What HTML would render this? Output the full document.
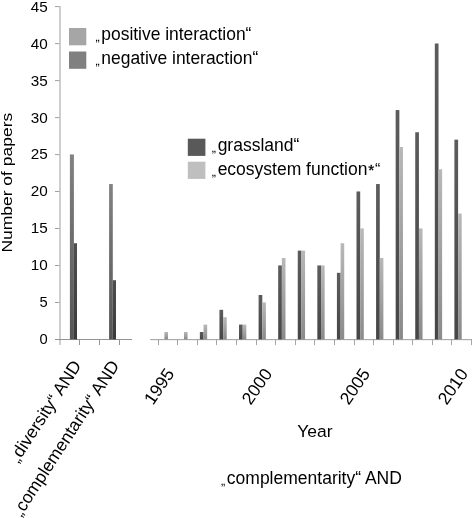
<!DOCTYPE html>
<html><head><meta charset="utf-8"><title>chart</title>
<style>
html,body{margin:0;padding:0;background:#fff;}
body{width:472px;height:518px;overflow:hidden;position:relative;font-family:"Liberation Sans",sans-serif;color:#000;}
svg{position:absolute;left:0;top:0;}
text{font-family:"Liberation Sans",sans-serif;fill:#000;}
</style></head><body>
<svg width="472" height="518" viewBox="0 0 472 518">
<defs>
<linearGradient id="gd" x1="0" x2="0" y1="0" y2="1"><stop offset="0" stop-color="#5c5c5c"/><stop offset="1" stop-color="#464646"/></linearGradient>
<linearGradient id="gl" x1="0" x2="0" y1="0" y2="1"><stop offset="0" stop-color="#b8b8b8"/><stop offset="1" stop-color="#8a8a8a"/></linearGradient>
<linearGradient id="gm" x1="0" x2="0" y1="0" y2="1"><stop offset="0" stop-color="#828282"/><stop offset="1" stop-color="#545454"/></linearGradient>
<linearGradient id="gk" x1="0" x2="0" y1="0" y2="1"><stop offset="0" stop-color="#4e4e4e"/><stop offset="1" stop-color="#3a3a3a"/></linearGradient>
</defs>

<line x1="60" y1="6.0" x2="60" y2="345.0" stroke="#c6c6c6" stroke-width="1.7"/>
<g stroke="#949494" stroke-width="1" fill="none">
<line x1="55" y1="339.5" x2="59.5" y2="339.5" stroke="#a0a0a0"/>
<line x1="55" y1="302.5" x2="59.5" y2="302.5" stroke="#a0a0a0"/>
<line x1="55" y1="265.5" x2="59.5" y2="265.5" stroke="#a0a0a0"/>
<line x1="55" y1="228.5" x2="59.5" y2="228.5" stroke="#a0a0a0"/>
<line x1="55" y1="191.5" x2="59.5" y2="191.5" stroke="#a0a0a0"/>
<line x1="55" y1="154.6" x2="59.5" y2="154.6" stroke="#a0a0a0"/>
<line x1="55" y1="117.6" x2="59.5" y2="117.6" stroke="#a0a0a0"/>
<line x1="55" y1="80.6" x2="59.5" y2="80.6" stroke="#a0a0a0"/>
<line x1="55" y1="43.6" x2="59.5" y2="43.6" stroke="#a0a0a0"/>
<line x1="55" y1="6.6" x2="59.5" y2="6.6" stroke="#a0a0a0"/>
<line x1="55" y1="339.5" x2="132" y2="339.5"/>
<line x1="79.5" y1="339.5" x2="79.5" y2="345.0"/>
<line x1="99.5" y1="339.5" x2="99.5" y2="345.0"/>
<line x1="119.5" y1="339.5" x2="119.5" y2="345.0"/>
<line x1="150.2" y1="339.65" x2="472" y2="339.65" stroke="#9c9c9c"/>
<line x1="158.5" y1="339.5" x2="158.5" y2="345.1" stroke="#a4a4a4"/>
<line x1="177.5" y1="339.5" x2="177.5" y2="345.1" stroke="#a4a4a4"/>
<line x1="197.5" y1="339.5" x2="197.5" y2="345.1" stroke="#a4a4a4"/>
<line x1="216.5" y1="339.5" x2="216.5" y2="345.1" stroke="#a4a4a4"/>
<line x1="236.5" y1="339.5" x2="236.5" y2="345.1" stroke="#a4a4a4"/>
<line x1="256.5" y1="339.5" x2="256.5" y2="345.1" stroke="#a4a4a4"/>
<line x1="275.5" y1="339.5" x2="275.5" y2="345.1" stroke="#a4a4a4"/>
<line x1="295.5" y1="339.5" x2="295.5" y2="345.1" stroke="#a4a4a4"/>
<line x1="314.5" y1="339.5" x2="314.5" y2="345.1" stroke="#a4a4a4"/>
<line x1="334.5" y1="339.5" x2="334.5" y2="345.1" stroke="#a4a4a4"/>
<line x1="354.5" y1="339.5" x2="354.5" y2="345.1" stroke="#a4a4a4"/>
<line x1="373.5" y1="339.5" x2="373.5" y2="345.1" stroke="#a4a4a4"/>
<line x1="393.5" y1="339.5" x2="393.5" y2="345.1" stroke="#a4a4a4"/>
<line x1="412.5" y1="339.5" x2="412.5" y2="345.1" stroke="#a4a4a4"/>
<line x1="432.5" y1="339.5" x2="432.5" y2="345.1" stroke="#a4a4a4"/>
<line x1="451.5" y1="339.5" x2="451.5" y2="345.1" stroke="#a4a4a4"/>
<line x1="471.5" y1="339.5" x2="471.5" y2="345.1" stroke="#a4a4a4"/>
</g>
<rect x="69.90" y="154.45" width="4.00" height="184.95" fill="url(#gm)"/>
<rect x="73.90" y="243.23" width="3.10" height="96.17" fill="url(#gk)"/>
<rect x="109.10" y="184.04" width="3.70" height="155.36" fill="url(#gm)"/>
<rect x="112.80" y="280.22" width="3.20" height="59.18" fill="url(#gk)"/>
<rect x="164.40" y="332.00" width="3.60" height="7.40" fill="url(#gl)"/>
<rect x="183.98" y="332.00" width="3.60" height="7.40" fill="url(#gl)"/>
<rect x="199.86" y="332.00" width="3.70" height="7.40" fill="url(#gd)"/>
<rect x="203.56" y="324.60" width="3.60" height="14.80" fill="url(#gl)"/>
<rect x="219.44" y="309.81" width="3.70" height="29.59" fill="url(#gd)"/>
<rect x="223.14" y="317.21" width="3.60" height="22.19" fill="url(#gl)"/>
<rect x="239.02" y="324.60" width="3.70" height="14.80" fill="url(#gd)"/>
<rect x="242.72" y="324.60" width="3.60" height="14.80" fill="url(#gl)"/>
<rect x="258.60" y="295.01" width="3.70" height="44.39" fill="url(#gd)"/>
<rect x="262.30" y="302.41" width="3.60" height="36.99" fill="url(#gl)"/>
<rect x="278.18" y="265.42" width="3.70" height="73.98" fill="url(#gd)"/>
<rect x="281.88" y="258.02" width="3.60" height="81.38" fill="url(#gl)"/>
<rect x="297.76" y="250.62" width="3.70" height="88.78" fill="url(#gd)"/>
<rect x="301.46" y="250.62" width="3.60" height="88.78" fill="url(#gl)"/>
<rect x="317.34" y="265.42" width="3.70" height="73.98" fill="url(#gd)"/>
<rect x="321.04" y="265.42" width="3.60" height="73.98" fill="url(#gl)"/>
<rect x="336.92" y="272.82" width="3.70" height="66.58" fill="url(#gd)"/>
<rect x="340.62" y="243.23" width="3.60" height="96.17" fill="url(#gl)"/>
<rect x="356.50" y="191.44" width="3.70" height="147.96" fill="url(#gd)"/>
<rect x="360.20" y="228.43" width="3.60" height="110.97" fill="url(#gl)"/>
<rect x="376.08" y="184.04" width="3.70" height="155.36" fill="url(#gd)"/>
<rect x="379.78" y="258.02" width="3.60" height="81.38" fill="url(#gl)"/>
<rect x="395.66" y="110.06" width="3.70" height="229.34" fill="url(#gd)"/>
<rect x="399.36" y="147.05" width="3.60" height="192.35" fill="url(#gl)"/>
<rect x="415.24" y="132.26" width="3.70" height="207.14" fill="url(#gd)"/>
<rect x="418.94" y="228.43" width="3.60" height="110.97" fill="url(#gl)"/>
<rect x="434.82" y="43.48" width="3.70" height="295.92" fill="url(#gd)"/>
<rect x="438.52" y="169.25" width="3.60" height="170.15" fill="url(#gl)"/>
<rect x="454.40" y="139.65" width="3.70" height="199.75" fill="url(#gd)"/>
<rect x="458.10" y="213.63" width="3.60" height="125.77" fill="url(#gl)"/>
<rect x="69" y="28" width="17.3" height="17.3" fill="#a6a6a6"/>
<rect x="69" y="51.5" width="17.3" height="17.3" fill="#808080"/>
<rect x="187.8" y="138.7" width="17.6" height="17.2" fill="#595959"/>
<rect x="187.8" y="161.7" width="17.6" height="17.2" fill="#bfbfbf"/>
<text x="95.5" y="40.1" font-size="17.43"><tspan font-size="12.55" dy="0.9">„</tspan><tspan dy="-0.9" dx="1.63">positive interaction“</tspan></text>
<text x="95.5" y="64.4" font-size="17.43"><tspan font-size="12.55" dy="0.9">„</tspan><tspan dy="-0.9" dx="1.63">negative interaction“</tspan></text>
<text x="211.8" y="151.3" font-size="17.5"><tspan font-size="12.60" dy="0.9">„</tspan><tspan dy="-0.9" dx="1.63">grassland“</tspan></text>
<text x="211.8" y="175.2" font-size="17.5"><tspan font-size="12.6" dy="0.9">„</tspan><tspan dy="-0.9" dx="1.63">ecosystem function</tspan><tspan stroke="#000" stroke-width="0.3" font-size="15.5" dx="0.9" dy="-0.6">*</tspan><tspan font-size="16" dx="0.6" dy="0.6">“</tspan></text>
<text x="47.8" y="344.4" font-size="14" text-anchor="end" textLength="8.2" lengthAdjust="spacingAndGlyphs">0</text>
<text x="47.8" y="307.4" font-size="14" text-anchor="end" textLength="8.2" lengthAdjust="spacingAndGlyphs">5</text>
<text x="47.8" y="270.4" font-size="14" text-anchor="end" textLength="17.0" lengthAdjust="spacingAndGlyphs">10</text>
<text x="47.8" y="233.4" font-size="14" text-anchor="end" textLength="17.0" lengthAdjust="spacingAndGlyphs">15</text>
<text x="47.8" y="196.4" font-size="14" text-anchor="end" textLength="17.0" lengthAdjust="spacingAndGlyphs">20</text>
<text x="47.8" y="159.4" font-size="14" text-anchor="end" textLength="17.0" lengthAdjust="spacingAndGlyphs">25</text>
<text x="47.8" y="122.5" font-size="14" text-anchor="end" textLength="17.0" lengthAdjust="spacingAndGlyphs">30</text>
<text x="47.8" y="85.5" font-size="14" text-anchor="end" textLength="17.0" lengthAdjust="spacingAndGlyphs">35</text>
<text x="47.8" y="48.5" font-size="14" text-anchor="end" textLength="17.0" lengthAdjust="spacingAndGlyphs">40</text>
<text x="47.8" y="11.5" font-size="14" text-anchor="end" textLength="17.0" lengthAdjust="spacingAndGlyphs">45</text>
<text transform="translate(12.0,252.6) rotate(-90)" font-size="15" textLength="139.8" lengthAdjust="spacingAndGlyphs">Number of papers</text>
<text transform="translate(175.0,373.6) rotate(-55.5)" font-size="17.5" text-anchor="end">1995</text>
<text transform="translate(272.9,373.6) rotate(-55.5)" font-size="17.5" text-anchor="end">2000</text>
<text transform="translate(370.8,373.6) rotate(-55.5)" font-size="17.5" text-anchor="end">2005</text>
<text transform="translate(468.7,373.6) rotate(-55.5)" font-size="17.5" text-anchor="end">2010</text>
<text transform="translate(82,365.5) rotate(-56.9)" font-size="17.55" text-anchor="end"><tspan font-size="15.44" dy="0.4">„</tspan><tspan dy="-0.4" dx="0.70">diversity“ AND</tspan></text>
<text transform="translate(120,365.5) rotate(-56.9)" font-size="17.55" text-anchor="end"><tspan font-size="15.44" dy="0.4">„</tspan><tspan dy="-0.4" dx="0.70">complementarity“ AND</tspan></text>
<text x="297.3" y="436.8" font-size="17.4" textLength="35.3" lengthAdjust="spacingAndGlyphs">Year</text>
<text x="221" y="483.9" font-size="17.5"><tspan font-size="12.60" dy="0.9">„</tspan><tspan dy="-0.9" dx="1.63">complementarity“ AND</tspan></text>
</svg></body></html>
